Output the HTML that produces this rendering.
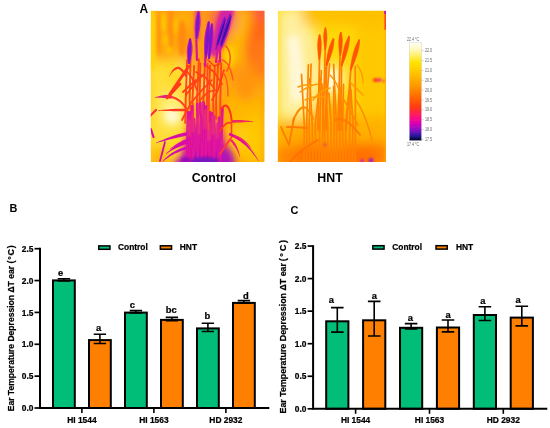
<!DOCTYPE html>
<html><head><meta charset="utf-8"><style>
html,body{margin:0;padding:0;background:#fff;width:550px;height:428px;overflow:hidden}
svg{position:absolute;left:0;top:0;display:block}
svg text{font-family:'Liberation Sans', Arial, sans-serif;font-weight:bold;fill:#000}
.t{stroke:#000;stroke-width:0.22px}
</style></head><body>
<svg width="550" height="428" viewBox="0 0 550 428">
<defs>
<filter id="sb" x="-10%" y="-10%" width="120%" height="120%"><feGaussianBlur stdDeviation="0.22"/></filter>
<linearGradient id="cbar" x1="0" y1="0" x2="0" y2="1"><stop offset="0" stop-color="#FFFFF4"/><stop offset="0.08" stop-color="#FFF8B0"/><stop offset="0.2" stop-color="#FFE400"/><stop offset="0.32" stop-color="#FFC000"/><stop offset="0.45" stop-color="#FF9400"/><stop offset="0.57" stop-color="#FF6200"/><stop offset="0.66" stop-color="#FF3A14"/><stop offset="0.75" stop-color="#FF1470"/><stop offset="0.82" stop-color="#E000B0"/><stop offset="0.89" stop-color="#8A10C8"/><stop offset="0.95" stop-color="#2818A0"/><stop offset="1" stop-color="#000020"/></linearGradient>
</defs>
<defs>
<clipPath id="c1"><rect x="150.8" y="10.8" width="113.7" height="151.2"/></clipPath>
<clipPath id="c2"><rect x="277.8" y="10.8" width="108.2" height="151.2"/></clipPath>
<filter id="b6" x="-50%" y="-50%" width="200%" height="200%"><feGaussianBlur stdDeviation="6"/></filter>
<filter id="b3" x="-50%" y="-50%" width="200%" height="200%"><feGaussianBlur stdDeviation="3"/></filter>
<filter id="b2" x="-50%" y="-50%" width="200%" height="200%"><feGaussianBlur stdDeviation="1.8"/></filter>
<filter id="b15" x="-50%" y="-50%" width="200%" height="200%"><feGaussianBlur stdDeviation="1.5"/></filter>
<filter id="b05" x="-20%" y="-20%" width="140%" height="140%"><feGaussianBlur stdDeviation="0.5"/></filter>
<filter id="b08" x="-20%" y="-20%" width="140%" height="140%"><feGaussianBlur stdDeviation="0.8"/></filter>
</defs>
<g clip-path="url(#c1)">
<rect x="150.8" y="10.8" width="113.7" height="151.2" fill="#FF9C12"/>
<g filter="url(#b6)">
<rect x="144" y="10" width="10" height="155" fill="#FFDC20"/>
<path d="M150,60 L188,58 L190,165 L150,165Z" fill="#FFDC28"/>
<ellipse cx="162" cy="34" rx="3" ry="16" fill="#FFC800"/>
<ellipse cx="174" cy="44" rx="3" ry="14" fill="#FFC000"/>
<ellipse cx="183" cy="20" rx="5" ry="9" fill="#FFC400"/>
<ellipse cx="185" cy="64" rx="5" ry="6" fill="#FFE060"/>
<ellipse cx="172" cy="110" rx="13" ry="18" fill="#FFF07A"/>
<ellipse cx="160" cy="130" rx="8" ry="14" fill="#FFE040"/>
<ellipse cx="160" cy="84" rx="6" ry="20" fill="#FFE040"/>
<ellipse cx="160" cy="155" rx="10" ry="8" fill="#FFB000"/>
<ellipse cx="258" cy="30" rx="16" ry="38" fill="#FF6616"/>
<rect x="254" y="40" width="16" height="70" fill="#FF7A14"/>
<ellipse cx="262" cy="12" rx="8" ry="6" fill="#FF4A50"/>
<path d="M240,10 L252,10 L240,64 L226,64Z" fill="#FFC000"/>
<ellipse cx="224" cy="20" rx="12" ry="14" fill="#F04080" opacity="0.8"/>
<path d="M226,80 L266,80 L266,165 L226,165Z" fill="#FFB800"/>
<ellipse cx="256" cy="140" rx="10" ry="26" fill="#FFC800"/>
<ellipse cx="246" cy="84" rx="14" ry="18" fill="#FF9410"/>
<ellipse cx="238" cy="138" rx="12" ry="14" fill="#FFCC10"/>
<ellipse cx="204" cy="84" rx="16" ry="20" fill="#FFC030" opacity="0.6"/>
</g>
<g filter="url(#b2)">
<rect x="151" y="10" width="3.5" height="60" fill="#FFD400"/>
<ellipse cx="159" cy="34" rx="2.2" ry="22" fill="#FF9208"/>
<ellipse cx="163.5" cy="22" rx="2.6" ry="10" fill="#FFC600"/>
<ellipse cx="166" cy="40" rx="3" ry="5" fill="#FFC000"/>
<ellipse cx="171" cy="30" rx="2.8" ry="22" fill="#FF9008"/>
<ellipse cx="175.5" cy="26" rx="2.2" ry="9" fill="#FFBE00"/>
<ellipse cx="182" cy="38" rx="4" ry="18" fill="#FF8A08"/>
<ellipse cx="169" cy="50" rx="3" ry="4" fill="#FFC000"/>
</g>
<g filter="url(#b3)">
<ellipse cx="172" cy="116" rx="7" ry="7" fill="#FFFAD8"/>
<ellipse cx="229" cy="56" rx="4" ry="11" fill="#FFE400"/>
<ellipse cx="188" cy="80" rx="2.2" ry="10" fill="#FFF8D0"/>
<ellipse cx="205" cy="84" rx="2.2" ry="9" fill="#FFF4B0"/>
<ellipse cx="195" cy="95" rx="2" ry="8" fill="#FFF0A0"/>
<ellipse cx="212" cy="96" rx="2" ry="8" fill="#FFE880"/>
</g>
<g filter="url(#b3)">
<path d="M178,165 L184,145 L190,126 L205,120 L220,126 L226,145 L236,165Z" fill="#DA12A4"/>
<path d="M205,165 Q212,146 226,146 Q234,150 236,165Z" fill="#B414B8"/>
<ellipse cx="204" cy="164" rx="30" ry="11" fill="#B014B8"/>
<ellipse cx="205" cy="163" rx="18" ry="8" fill="#8C14C4"/>
</g>
<g filter="url(#b05)">
<path d="M185.2,122.9 L185.7,100.0 L187.1,59.9" stroke="#FF4816" stroke-width="1.9" fill="none" stroke-linecap="round" stroke-linejoin="round" opacity="1.0"/>
<path d="M190.7,112.3 L189.6,100.0 L190.6,58.5" stroke="#FF4816" stroke-width="1.9" fill="none" stroke-linecap="round" stroke-linejoin="round" opacity="1.0"/>
<path d="M193.2,121.4 L192.5,100.0 L194.1,66.0" stroke="#FF4816" stroke-width="1.9" fill="none" stroke-linecap="round" stroke-linejoin="round" opacity="1.0"/>
<path d="M197.7,124.7 L197.0,100.0 L198.9,59.2" stroke="#FF4816" stroke-width="1.9" fill="none" stroke-linecap="round" stroke-linejoin="round" opacity="1.0"/>
<path d="M200.0,113.3 L199.6,100.0 L200.3,63.4" stroke="#FF4816" stroke-width="1.9" fill="none" stroke-linecap="round" stroke-linejoin="round" opacity="1.0"/>
<path d="M202.9,129.3 L203.4,100.0 L205.2,58.2" stroke="#FF4816" stroke-width="1.9" fill="none" stroke-linecap="round" stroke-linejoin="round" opacity="1.0"/>
<path d="M206.3,130.4 L207.0,100.0 L207.6,63.7" stroke="#FF4816" stroke-width="1.9" fill="none" stroke-linecap="round" stroke-linejoin="round" opacity="1.0"/>
<path d="M208.7,129.6 L208.9,100.0 L210.0,65.5" stroke="#FF4816" stroke-width="1.9" fill="none" stroke-linecap="round" stroke-linejoin="round" opacity="1.0"/>
<path d="M213.8,120.7 L213.2,100.0 L214.8,65.7" stroke="#FF4816" stroke-width="1.9" fill="none" stroke-linecap="round" stroke-linejoin="round" opacity="1.0"/>
<path d="M216.2,119.0 L216.1,100.0 L218.3,61.1" stroke="#FF4816" stroke-width="1.9" fill="none" stroke-linecap="round" stroke-linejoin="round" opacity="1.0"/>
<path d="M220.2,130.6 L220.3,100.0 L221.2,63.5" stroke="#FF4816" stroke-width="1.9" fill="none" stroke-linecap="round" stroke-linejoin="round" opacity="1.0"/>
<path d="M186.0,95.0 L196.0,82.0 L204.0,74.0" stroke="#FF4018" stroke-width="1.7" fill="none" stroke-linecap="round" stroke-linejoin="round" opacity="1.0"/>
<path d="M190.0,104.0 L202.0,90.0 L212.0,80.0" stroke="#FF4018" stroke-width="1.7" fill="none" stroke-linecap="round" stroke-linejoin="round" opacity="1.0"/>
<path d="M200.0,100.0 L208.0,92.0 L216.0,90.0" stroke="#FF4018" stroke-width="1.7" fill="none" stroke-linecap="round" stroke-linejoin="round" opacity="1.0"/>
<path d="M196.0,72.0 L206.0,78.0 L214.0,88.0" stroke="#FF4018" stroke-width="1.7" fill="none" stroke-linecap="round" stroke-linejoin="round" opacity="1.0"/>
<path d="M204.0,64.0 L214.0,72.0 L222.0,84.0" stroke="#FF4018" stroke-width="1.7" fill="none" stroke-linecap="round" stroke-linejoin="round" opacity="1.0"/>
<path d="M212.0,100.0 L218.0,90.0 L224.0,70.0" stroke="#FF4018" stroke-width="1.7" fill="none" stroke-linecap="round" stroke-linejoin="round" opacity="1.0"/>
<path d="M186.0,70.0 L192.0,78.0 L197.0,90.0" stroke="#FF4018" stroke-width="1.7" fill="none" stroke-linecap="round" stroke-linejoin="round" opacity="1.0"/>
<path d="M208.0,60.0 L214.0,66.0 L220.0,64.0" stroke="#FF4018" stroke-width="1.7" fill="none" stroke-linecap="round" stroke-linejoin="round" opacity="1.0"/>
<path d="M187.2,164.0 L187.8,112.0" stroke="#E0129C" stroke-width="2.6" fill="none" stroke-linecap="round" stroke-linejoin="round" opacity="1.0"/>
<path d="M189.5,164.0 L189.7,112.2" stroke="#E0129C" stroke-width="2.6" fill="none" stroke-linecap="round" stroke-linejoin="round" opacity="1.0"/>
<path d="M192.0,164.0 L192.3,106.1" stroke="#E0129C" stroke-width="2.6" fill="none" stroke-linecap="round" stroke-linejoin="round" opacity="1.0"/>
<path d="M192.9,164.0 L194.1,119.4" stroke="#E0129C" stroke-width="2.6" fill="none" stroke-linecap="round" stroke-linejoin="round" opacity="1.0"/>
<path d="M198.2,164.0 L197.4,104.0" stroke="#E0129C" stroke-width="2.6" fill="none" stroke-linecap="round" stroke-linejoin="round" opacity="1.0"/>
<path d="M201.4,164.0 L200.4,102.9" stroke="#E0129C" stroke-width="2.6" fill="none" stroke-linecap="round" stroke-linejoin="round" opacity="1.0"/>
<path d="M202.5,164.0 L201.3,116.4" stroke="#E0129C" stroke-width="2.6" fill="none" stroke-linecap="round" stroke-linejoin="round" opacity="1.0"/>
<path d="M204.6,164.0 L203.6,102.3" stroke="#E0129C" stroke-width="2.6" fill="none" stroke-linecap="round" stroke-linejoin="round" opacity="1.0"/>
<path d="M206.0,164.0 L206.1,106.2" stroke="#E0129C" stroke-width="2.6" fill="none" stroke-linecap="round" stroke-linejoin="round" opacity="1.0"/>
<path d="M209.3,164.0 L210.2,112.2" stroke="#E0129C" stroke-width="2.6" fill="none" stroke-linecap="round" stroke-linejoin="round" opacity="1.0"/>
<path d="M212.6,164.0 L212.0,113.4" stroke="#E0129C" stroke-width="2.6" fill="none" stroke-linecap="round" stroke-linejoin="round" opacity="1.0"/>
<path d="M214.3,164.0 L214.1,116.6" stroke="#E0129C" stroke-width="2.6" fill="none" stroke-linecap="round" stroke-linejoin="round" opacity="1.0"/>
<path d="M219.0,164.0 L217.7,123.9" stroke="#E0129C" stroke-width="2.6" fill="none" stroke-linecap="round" stroke-linejoin="round" opacity="1.0"/>
<path d="M218.8,164.0 L219.0,117.6" stroke="#E0129C" stroke-width="2.6" fill="none" stroke-linecap="round" stroke-linejoin="round" opacity="1.0"/>
<path d="M220.3,164.0 L222.5,108.4" stroke="#E0129C" stroke-width="2.6" fill="none" stroke-linecap="round" stroke-linejoin="round" opacity="1.0"/>
<path d="M169.1,77.1 L169.8,75.9 L170.5,74.8 L171.2,73.9 L171.9,73.0 L172.6,72.2 L173.3,71.5 L173.9,70.9 L174.6,70.4 L175.2,70.0 L175.8,69.7 L176.4,69.4 L176.9,69.2 L177.4,69.1 L177.8,69.0 L178.3,69.0 L178.8,69.1 L179.2,66.9 L178.4,66.8 L177.7,66.8 L176.9,66.9 L176.1,67.1 L175.4,67.5 L174.7,67.9 L174.0,68.5 L173.4,69.1 L172.8,69.8 L172.2,70.6 L171.6,71.5 L171.1,72.4 L170.5,73.4 L170.0,74.5 L169.4,75.7 L168.9,76.9Z" fill="#FF3A20"/>
<path d="M179,68 Q183,70 186,76" stroke="#FF3A20" stroke-width="2.0" fill="none" stroke-linecap="round" stroke-linejoin="round" opacity="1.0"/>
<path d="M170.0,94.0 L189.0,66.0" stroke="#FF3A1C" stroke-width="3.0" fill="none" stroke-linecap="round" stroke-linejoin="round" opacity="1.0"/>
<path d="M155.1,97.7 L156.0,97.7 L156.9,97.7 L157.8,97.6 L158.8,97.7 L159.7,97.7 L160.7,97.7 L161.8,97.8 L162.8,97.9 L163.8,98.0 L164.9,98.1 L166.0,98.2 L167.1,98.3 L168.3,98.3 L169.4,98.4 L170.6,98.5 L171.8,98.6 L172.2,95.4 L170.9,95.3 L169.7,95.2 L168.4,95.1 L167.3,95.1 L166.1,95.0 L164.9,95.1 L163.8,95.2 L162.7,95.4 L161.6,95.5 L160.6,95.7 L159.6,95.9 L158.6,96.2 L157.6,96.4 L156.7,96.7 L155.8,97.0 L154.9,97.3Z" fill="#E8207A"/>
<path d="M172,97 Q180,99 186,108" stroke="#FF4020" stroke-width="2.0" fill="none" stroke-linecap="round" stroke-linejoin="round" opacity="1.0"/>
<path d="M167.0,98.0 L180.0,84.0" stroke="#FF3A18" stroke-width="2.6" fill="none" stroke-linecap="round" stroke-linejoin="round" opacity="1.0"/>
<path d="M158.0,110.7 L159.5,110.7 L161.1,110.8 L162.7,110.8 L164.3,110.9 L165.9,110.9 L167.6,111.0 L169.3,111.1 L171.0,111.1 L172.8,111.2 L174.6,111.3 L176.4,111.3 L178.3,111.3 L180.1,111.3 L182.1,111.3 L184.0,111.3 L186.0,111.3 L186.0,108.7 L184.0,108.7 L182.1,108.7 L180.1,108.7 L178.2,108.7 L176.4,108.7 L174.5,108.8 L172.7,109.0 L171.0,109.1 L169.2,109.2 L167.5,109.4 L165.9,109.5 L164.2,109.7 L162.6,109.8 L161.0,110.0 L159.5,110.1 L158.0,110.3Z" fill="#FF3A1C"/>
<path d="M150.0,116.0 L156.0,110.0" stroke="#FF2A40" stroke-width="2.2" fill="none" stroke-linecap="round" stroke-linejoin="round" opacity="1.0"/>
<path d="M156.1,143.2 L158.1,142.6 L160.2,142.0 L162.3,141.4 L164.4,140.9 L166.5,140.3 L168.6,139.8 L170.7,139.3 L172.9,138.8 L175.0,138.3 L177.2,137.8 L179.4,137.3 L181.5,136.8 L183.7,136.2 L185.9,135.7 L188.1,135.2 L190.4,134.7 L189.6,131.3 L187.4,131.9 L185.1,132.4 L182.9,132.9 L180.7,133.5 L178.5,134.1 L176.4,134.7 L174.2,135.5 L172.1,136.2 L170.0,137.0 L168.0,137.8 L165.9,138.6 L163.9,139.4 L161.9,140.2 L159.9,141.0 L157.9,141.9 L155.9,142.8Z" fill="#D810A8"/>
<path d="M160.0,161.0 L165.0,142.0" stroke="#D010A8" stroke-width="1.8" fill="none" stroke-linecap="round" stroke-linejoin="round" opacity="1.0"/>
<path d="M166.1,154.2 L167.4,153.3 L168.6,152.4 L169.9,151.6 L171.2,150.8 L172.5,150.1 L173.8,149.4 L175.2,148.7 L176.6,148.0 L178.0,147.4 L179.4,146.8 L180.9,146.3 L182.3,145.6 L183.8,145.0 L185.3,144.5 L186.9,143.9 L188.4,143.4 L187.6,140.6 L185.9,141.1 L184.3,141.7 L182.7,142.2 L181.2,142.9 L179.7,143.5 L178.2,144.3 L176.8,145.1 L175.4,146.0 L174.1,146.8 L172.8,147.8 L171.6,148.7 L170.3,149.7 L169.2,150.7 L168.0,151.7 L166.9,152.8 L165.9,153.8Z" fill="#D810A8"/>
<path d="M170.1,149.2 L171.3,148.5 L172.5,147.9 L173.7,147.3 L174.9,146.7 L176.2,146.1 L177.4,145.5 L178.7,144.9 L180.0,144.4 L181.2,143.9 L182.5,143.4 L183.8,142.9 L185.1,142.3 L186.4,141.8 L187.8,141.2 L189.1,140.7 L190.4,140.2 L189.6,137.8 L188.2,138.3 L186.8,138.8 L185.5,139.4 L184.1,139.9 L182.8,140.5 L181.5,141.2 L180.3,141.9 L179.0,142.6 L177.8,143.3 L176.6,144.1 L175.5,144.8 L174.3,145.6 L173.2,146.4 L172.1,147.2 L171.0,148.0 L169.9,148.8Z" fill="#D810A8"/>
<path d="M162.1,162.1 L163.5,161.0 L164.8,159.9 L166.2,158.9 L167.6,157.9 L169.1,156.9 L170.5,156.0 L172.0,155.2 L173.5,154.4 L175.1,153.6 L176.6,152.9 L178.2,152.3 L179.8,151.6 L181.4,150.9 L183.0,150.3 L184.7,149.8 L186.4,149.2 L185.6,146.8 L183.9,147.3 L182.1,147.9 L180.4,148.5 L178.7,149.2 L177.1,149.9 L175.5,150.7 L174.0,151.7 L172.5,152.6 L171.0,153.6 L169.6,154.7 L168.2,155.8 L166.9,156.9 L165.6,158.1 L164.3,159.3 L163.1,160.6 L161.9,161.9Z" fill="#D010B0"/>
<path d="M150.8,129.0 L153.5,137.0" stroke="#E010A0" stroke-width="2.2" fill="none" stroke-linecap="round" stroke-linejoin="round" opacity="1.0"/>
<path d="M183,92 L196,80" stroke="#FF4018" stroke-width="2.0" fill="none" stroke-linecap="round" stroke-linejoin="round" opacity="1.0"/>
<path d="M182,120 Q186,112 190,105" stroke="#FF4018" stroke-width="1.8" fill="none" stroke-linecap="round" stroke-linejoin="round" opacity="1.0"/>
<path d="M220,131 Q226,121 231,123" stroke="#FF3A20" stroke-width="1.8" fill="none" stroke-linecap="round" stroke-linejoin="round" opacity="1.0"/>
<path d="M253.0,121.3 L251.8,121.1 L250.5,121.0 L249.2,120.8 L248.0,120.7 L246.7,120.6 L245.4,120.4 L244.1,120.3 L242.8,120.2 L241.4,120.1 L240.1,120.0 L238.8,120.0 L237.4,120.0 L236.1,120.0 L234.7,120.1 L233.3,120.1 L231.9,120.2 L232.1,122.8 L233.4,122.7 L234.8,122.7 L236.1,122.6 L237.5,122.6 L238.8,122.6 L240.1,122.5 L241.4,122.4 L242.8,122.3 L244.1,122.2 L245.3,122.1 L246.6,122.0 L247.9,121.9 L249.2,121.9 L250.5,121.8 L251.7,121.7 L253.0,121.7Z" fill="#F02A60"/>
<path d="M231.5,119.0 L231.5,137.0" stroke="#FF4020" stroke-width="1.6" fill="none" stroke-linecap="round" stroke-linejoin="round" opacity="1.0"/>
<path d="M258.7,160.9 L257.2,158.3 L255.6,155.8 L254.1,153.4 L252.4,151.1 L250.8,148.9 L249.1,146.8 L247.4,144.8 L245.6,143.0 L243.7,141.3 L241.9,139.6 L239.9,138.1 L237.9,136.8 L235.8,135.6 L233.7,134.6 L231.6,133.6 L229.4,132.8 L228.6,135.2 L230.6,136.0 L232.6,136.9 L234.6,137.9 L236.5,139.0 L238.5,140.3 L240.4,141.6 L242.3,143.0 L244.2,144.5 L246.1,146.1 L247.9,147.9 L249.7,149.8 L251.5,151.8 L253.2,154.0 L255.0,156.2 L256.7,158.6 L258.3,161.1Z" fill="#E0109A"/>
<path d="M251.1,147.9 L250.3,146.7 L249.5,145.6 L248.6,144.5 L247.7,143.5 L246.7,142.5 L245.8,141.6 L244.8,140.7 L243.7,139.8 L242.7,139.0 L241.6,138.2 L240.5,137.5 L239.3,136.9 L238.1,136.3 L236.9,135.8 L235.6,135.4 L234.3,134.9 L233.7,137.1 L234.9,137.4 L236.1,137.9 L237.2,138.3 L238.3,138.9 L239.4,139.4 L240.5,140.0 L241.7,140.6 L242.8,141.2 L243.8,141.9 L244.9,142.6 L245.9,143.4 L247.0,144.2 L248.0,145.1 L248.9,146.1 L249.9,147.1 L250.9,148.1Z" fill="#F01C80"/>
<path d="M240.2,157.0 L239.9,155.6 L239.5,154.2 L239.2,152.9 L238.8,151.6 L238.4,150.4 L238.0,149.2 L237.5,148.0 L237.0,146.8 L236.5,145.7 L236.0,144.7 L235.4,143.6 L234.7,142.7 L234.0,141.7 L233.3,140.9 L232.5,140.0 L231.8,139.2 L230.2,140.8 L230.9,141.5 L231.6,142.3 L232.3,143.1 L232.9,144.0 L233.5,144.9 L234.2,145.8 L234.8,146.7 L235.5,147.7 L236.1,148.7 L236.7,149.7 L237.3,150.8 L237.8,152.0 L238.4,153.2 L238.9,154.4 L239.4,155.7 L239.8,157.0Z" fill="#F01C80"/>
<path d="M220.0,154.0 L231.0,138.0" stroke="#FF3A30" stroke-width="1.8" fill="none" stroke-linecap="round" stroke-linejoin="round" opacity="1.0"/>
<path d="M221,109 Q226,102 229,109 Q231,113 231.5,119" stroke="#FF3020" stroke-width="1.8" fill="none" stroke-linecap="round" stroke-linejoin="round" opacity="1.0"/>
<path d="M226,46 Q234,56 227,71" stroke="#FF5A18" stroke-width="1.6" fill="none" stroke-linecap="round" stroke-linejoin="round" opacity="1.0"/>
<path d="M222,72 Q228,76 228,96" stroke="#FF5A18" stroke-width="1.4" fill="none" stroke-linecap="round" stroke-linejoin="round" opacity="1.0"/>
<path d="M222,60 Q230,62 233,80" stroke="#FF5A18" stroke-width="1.4" fill="none" stroke-linecap="round" stroke-linejoin="round" opacity="1.0"/>
</g>
<g filter="url(#b08)">
<path d="M193.0,114.0 L193.0,132.0" stroke="#FF7030" stroke-width="1.2" fill="none" stroke-linecap="round" stroke-linejoin="round" opacity="0.75"/>
<path d="M205.0,110.0 L205.0,128.0" stroke="#FF7030" stroke-width="1.2" fill="none" stroke-linecap="round" stroke-linejoin="round" opacity="0.75"/>
<path d="M213.0,116.0 L213.0,134.0" stroke="#FF7030" stroke-width="1.2" fill="none" stroke-linecap="round" stroke-linejoin="round" opacity="0.75"/>
<path d="M189.0,120.0 L189.0,136.0" stroke="#FF7030" stroke-width="1.2" fill="none" stroke-linecap="round" stroke-linejoin="round" opacity="0.75"/>
<path d="M199.0,118.0 L199.0,134.0" stroke="#FF7030" stroke-width="1.2" fill="none" stroke-linecap="round" stroke-linejoin="round" opacity="0.75"/>
<path d="M209.0,122.0 L209.0,140.0" stroke="#FF7030" stroke-width="1.2" fill="none" stroke-linecap="round" stroke-linejoin="round" opacity="0.75"/>
<path d="M217.0,120.0 L217.0,138.0" stroke="#FF7030" stroke-width="1.2" fill="none" stroke-linecap="round" stroke-linejoin="round" opacity="0.75"/>
<ellipse cx="205" cy="161" rx="14" ry="4" fill="#7A12C0"/>
<ellipse cx="186" cy="160" rx="5" ry="3" fill="#9810B8"/>
</g>
<g filter="url(#b15)">
<path d="M221,8 L235,8 L224,46 L214,58 L208,50Z" fill="#D020A8" opacity="0.9"/>
<path d="M195,10 L200,10 L199,40 L195,40Z" fill="#D020A8" opacity="0.7"/>
</g>
<g filter="url(#b05)">
<path d="M197.6,11.4 L197.0,13.4 L196.4,15.3 L195.9,17.2 L195.4,19.2 L195.1,21.1 L194.8,23.1 L194.7,25.0 L194.6,27.0 L194.6,29.0 L194.7,31.0 L194.9,32.9 L195.0,34.9 L195.3,36.9 L195.5,38.9 L197.5,39.1 L198.0,37.1 L198.6,35.2 L199.0,33.3 L199.5,31.3 L199.9,29.4 L200.2,27.4 L200.4,25.5 L200.6,23.5 L200.6,21.5 L200.6,19.6 L200.4,17.6 L200.2,15.6 L199.9,13.6 L199.6,11.6Z" fill="#D21CB0"/>
<path d="M189.2,38.5 L188.7,40.3 L188.2,42.1 L187.7,43.9 L187.4,45.7 L187.1,47.5 L186.9,49.3 L186.8,51.1 L186.8,52.9 L186.9,54.8 L187.0,56.6 L187.2,58.4 L187.5,60.3 L187.7,62.1 L188.0,64.0 L190.0,64.0 L190.4,62.2 L190.9,60.4 L191.3,58.6 L191.6,56.8 L192.0,55.0 L192.2,53.2 L192.4,51.4 L192.5,49.6 L192.5,47.7 L192.4,45.9 L192.2,44.1 L191.9,42.2 L191.5,40.4 L191.2,38.5Z" fill="#D21CB0"/>
<path d="M207.8,21.4 L207.0,24.0 L206.4,26.7 L205.7,29.3 L205.2,32.0 L204.7,34.6 L204.4,37.3 L204.2,40.0 L204.0,42.7 L204.0,45.4 L204.0,48.1 L204.0,50.8 L204.2,53.5 L204.3,56.2 L204.5,58.9 L206.5,59.1 L207.2,56.4 L207.8,53.8 L208.4,51.2 L208.9,48.5 L209.4,45.8 L209.8,43.2 L210.1,40.5 L210.4,37.8 L210.5,35.1 L210.5,32.4 L210.5,29.7 L210.3,27.0 L210.1,24.3 L209.8,21.6Z" fill="#D21CB0"/>
<path d="M211.0,23.4 L210.4,25.9 L209.7,28.4 L209.1,30.9 L208.6,33.4 L208.2,36.0 L207.9,38.5 L207.7,41.0 L207.6,43.6 L207.5,46.1 L207.6,48.7 L207.6,51.2 L207.7,53.8 L207.9,56.4 L208.0,58.9 L210.0,59.1 L210.6,56.6 L211.1,54.1 L211.7,51.6 L212.2,49.1 L212.6,46.5 L213.0,44.0 L213.3,41.5 L213.5,38.9 L213.6,36.4 L213.6,33.9 L213.6,31.3 L213.4,28.7 L213.2,26.2 L213.0,23.6Z" fill="#D21CB0"/>
<path d="M229.5,13.7 L228.2,16.0 L226.9,18.3 L225.8,20.7 L224.7,23.1 L223.7,25.5 L222.8,28.0 L222.1,30.5 L221.4,33.1 L220.8,35.6 L220.3,38.2 L219.9,40.8 L219.5,43.4 L219.2,46.0 L218.9,48.7 L221.1,49.3 L222.3,47.0 L223.5,44.6 L224.6,42.2 L225.7,39.8 L226.7,37.4 L227.7,34.9 L228.5,32.5 L229.3,30.0 L230.0,27.5 L230.5,24.9 L230.9,22.3 L231.2,19.7 L231.5,17.0 L231.7,14.3Z" fill="#D21CB0"/>
<path d="M224.0,16.7 L222.9,19.0 L221.8,21.2 L220.8,23.4 L219.8,25.7 L219.0,28.0 L218.3,30.4 L217.6,32.7 L217.1,35.1 L216.6,37.5 L216.2,39.9 L215.8,42.4 L215.5,44.8 L215.2,47.3 L215.0,49.7 L217.0,50.3 L218.0,48.0 L219.0,45.8 L220.0,43.5 L221.0,41.2 L221.8,38.9 L222.6,36.6 L223.4,34.3 L224.0,31.9 L224.6,29.5 L225.0,27.1 L225.4,24.7 L225.6,22.2 L225.8,19.8 L226.0,17.3Z" fill="#D21CB0"/>
<path d="M198.0,11.5 L197.6,13.4 L197.2,15.3 L196.8,17.3 L196.5,19.2 L196.2,21.2 L196.0,23.2 L195.9,25.1 L195.8,27.1 L195.7,29.1 L195.7,31.0 L195.7,33.0 L195.8,35.0 L195.8,37.0 L195.9,39.0 L197.1,39.0 L197.5,37.1 L197.8,35.2 L198.2,33.2 L198.5,31.2 L198.8,29.3 L199.0,27.3 L199.2,25.4 L199.4,23.4 L199.5,21.4 L199.5,19.5 L199.5,17.5 L199.4,15.5 L199.3,13.5 L199.2,11.5Z" fill="#7A18C8"/>
<path d="M189.6,38.5 L189.3,40.3 L189.0,42.1 L188.7,43.9 L188.4,45.7 L188.2,47.5 L188.1,49.4 L188.0,51.2 L188.0,53.0 L188.0,54.8 L188.0,56.7 L188.1,58.5 L188.2,60.3 L188.3,62.1 L188.4,64.0 L189.6,64.0 L189.9,62.2 L190.1,60.4 L190.4,58.6 L190.7,56.8 L190.9,55.0 L191.1,53.1 L191.2,51.3 L191.3,49.5 L191.3,47.7 L191.3,45.9 L191.2,44.0 L191.1,42.2 L190.9,40.4 L190.8,38.5Z" fill="#7A18C8"/>
<path d="M208.2,21.4 L207.6,24.1 L207.1,26.8 L206.7,29.4 L206.3,32.1 L205.9,34.7 L205.6,37.4 L205.4,40.1 L205.2,42.8 L205.1,45.5 L205.0,48.2 L204.9,50.9 L204.9,53.5 L204.9,56.2 L204.9,58.9 L206.1,59.1 L206.6,56.4 L207.1,53.7 L207.5,51.1 L207.9,48.4 L208.3,45.7 L208.6,43.1 L208.9,40.4 L209.2,37.7 L209.4,35.0 L209.5,32.4 L209.5,29.7 L209.5,27.0 L209.5,24.3 L209.4,21.6Z" fill="#7A18C8"/>
<path d="M211.4,23.5 L211.0,26.0 L210.5,28.5 L210.1,31.0 L209.7,33.5 L209.4,36.0 L209.1,38.6 L208.9,41.1 L208.8,43.7 L208.6,46.2 L208.5,48.7 L208.5,51.3 L208.5,53.8 L208.4,56.4 L208.4,59.0 L209.6,59.0 L210.0,56.5 L210.4,54.0 L210.8,51.5 L211.2,49.0 L211.5,46.4 L211.8,43.9 L212.1,41.4 L212.3,38.8 L212.5,36.3 L212.6,33.8 L212.6,31.2 L212.6,28.7 L212.6,26.1 L212.6,23.5Z" fill="#7A18C8"/>
<path d="M229.9,13.8 L228.8,16.2 L227.7,18.6 L226.7,21.0 L225.7,23.4 L224.8,25.9 L224.0,28.4 L223.2,30.9 L222.5,33.4 L221.9,35.9 L221.3,38.5 L220.7,41.0 L220.2,43.6 L219.7,46.2 L219.3,48.8 L220.7,49.2 L221.8,46.8 L222.8,44.4 L223.8,42.0 L224.8,39.5 L225.7,37.1 L226.6,34.6 L227.4,32.1 L228.2,29.6 L228.8,27.1 L229.5,24.6 L230.0,22.0 L230.5,19.4 L230.9,16.8 L231.3,14.2Z" fill="#7A18C8"/>
<path d="M224.4,16.8 L223.5,19.1 L222.6,21.4 L221.7,23.7 L220.9,26.0 L220.1,28.3 L219.4,30.7 L218.8,33.0 L218.2,35.4 L217.6,37.8 L217.1,40.2 L216.7,42.6 L216.2,45.0 L215.8,47.4 L215.4,49.8 L216.6,50.2 L217.5,47.9 L218.3,45.6 L219.2,43.3 L220.0,41.0 L220.8,38.6 L221.5,36.3 L222.2,34.0 L222.9,31.6 L223.5,29.2 L224.0,26.9 L224.4,24.4 L224.9,22.0 L225.2,19.6 L225.6,17.2Z" fill="#7A18C8"/>
<path d="M230.9,15.9 L230.0,18.0 L229.1,20.1 L228.2,22.2 L227.3,24.3 L226.5,26.4 L225.7,28.5 L225.0,30.7 L224.2,32.8 L223.5,35.0 L222.9,37.2 L222.2,39.3 L221.5,41.5 L220.9,43.7 L220.3,45.9 L220.9,46.1 L221.8,44.0 L222.7,41.9 L223.5,39.8 L224.4,37.7 L225.2,35.6 L226.0,33.5 L226.8,31.3 L227.6,29.2 L228.3,27.0 L229.0,24.9 L229.7,22.7 L230.3,20.5 L230.9,18.3 L231.5,16.1Z" fill="#3A1098"/>
<path d="M225.3,18.9 L224.6,20.9 L223.8,22.8 L223.1,24.8 L222.3,26.8 L221.6,28.8 L221.0,30.8 L220.3,32.8 L219.7,34.8 L219.1,36.8 L218.5,38.8 L218.0,40.8 L217.4,42.8 L216.9,44.9 L216.3,46.9 L216.9,47.1 L217.6,45.1 L218.4,43.2 L219.1,41.2 L219.8,39.2 L220.5,37.2 L221.2,35.2 L221.9,33.2 L222.5,31.2 L223.1,29.2 L223.7,27.2 L224.3,25.2 L224.8,23.2 L225.4,21.1 L225.9,19.1Z" fill="#3A1098"/>
<path d="M196.3,40.0 L197.0,60.0" stroke="#D8189C" stroke-width="2.2" fill="none" stroke-linecap="round" stroke-linejoin="round" opacity="1.0"/>
<path d="M205.5,58.0 L205.0,66.0" stroke="#D8189C" stroke-width="2.2" fill="none" stroke-linecap="round" stroke-linejoin="round" opacity="1.0"/>
<path d="M218.0,46.0 L216.0,62.0" stroke="#D8189C" stroke-width="2.2" fill="none" stroke-linecap="round" stroke-linejoin="round" opacity="1.0"/>
<path d="M220.0,46.0 L220.0,62.0" stroke="#D8189C" stroke-width="2.2" fill="none" stroke-linecap="round" stroke-linejoin="round" opacity="1.0"/>
</g>
</g>
<g clip-path="url(#c2)">
<rect x="277.8" y="10.8" width="108.2" height="151.2" fill="#FFD808"/>
<g filter="url(#b6)">
<path d="M278,8 L308,8 L318,108 L300,118 L278,118Z" fill="#FFF0A0"/>
<path d="M302,2 L392,2 L392,28 L302,24Z" fill="#FFC000"/>
<ellipse cx="338" cy="76" rx="7" ry="9" fill="#FFF6C8"/>
<rect x="356" y="26" width="34" height="100" fill="#FFC800"/>
<path d="M274,122 L392,116 L392,170 L274,170Z" fill="#FFB000"/>
<path d="M274,146 L392,142 L392,170 L274,170Z" fill="#FF8400"/>
<rect x="298" y="144" width="80" height="24" fill="#FF7000"/>
<ellipse cx="332" cy="80" rx="12" ry="16" fill="#FFF4C0"/>
<ellipse cx="312" cy="60" rx="10" ry="30" fill="#FFEC90"/>
<ellipse cx="332" cy="126" rx="22" ry="26" fill="#FFA000" opacity="0.7"/>
<ellipse cx="300" cy="135" rx="10" ry="10" fill="#FFA800" opacity="0.8"/>
</g>
<g filter="url(#b3)">
<path d="M287,36 L299,36 L308,98 L292,102Z" fill="#FFF8D8"/>
<ellipse cx="296" cy="84" rx="5" ry="6" fill="#FFF8D8"/>
<ellipse cx="331" cy="80" rx="6" ry="9" fill="#FFFBE0"/>
</g>
<g filter="url(#b05)">
<path d="M304.0,164.0 L304.3,125.0 L301.5,74.3" stroke="#FF8400" stroke-width="1.7" fill="none" stroke-linecap="round" stroke-linejoin="round" opacity="1.0"/>
<path d="M307.0,164.0 L306.7,125.0 L308.4,64.8" stroke="#FF8400" stroke-width="1.7" fill="none" stroke-linecap="round" stroke-linejoin="round" opacity="1.0"/>
<path d="M310.0,164.0 L309.1,125.0 L311.1,64.2" stroke="#FF8400" stroke-width="1.7" fill="none" stroke-linecap="round" stroke-linejoin="round" opacity="1.0"/>
<path d="M313.0,164.0 L312.2,125.0 L309.7,78.5" stroke="#FF8400" stroke-width="1.7" fill="none" stroke-linecap="round" stroke-linejoin="round" opacity="1.0"/>
<path d="M316.0,164.0 L315.2,125.0 L320.3,78.1" stroke="#FF8400" stroke-width="1.7" fill="none" stroke-linecap="round" stroke-linejoin="round" opacity="1.0"/>
<path d="M319.0,164.0 L319.9,125.0 L321.3,70.5" stroke="#FF8400" stroke-width="1.7" fill="none" stroke-linecap="round" stroke-linejoin="round" opacity="1.0"/>
<path d="M322.0,164.0 L323.0,125.0 L322.0,83.9" stroke="#FF8400" stroke-width="1.7" fill="none" stroke-linecap="round" stroke-linejoin="round" opacity="1.0"/>
<path d="M325.0,164.0 L324.6,125.0 L329.6,63.8" stroke="#FF8400" stroke-width="1.7" fill="none" stroke-linecap="round" stroke-linejoin="round" opacity="1.0"/>
<path d="M328.0,164.0 L327.6,125.0 L325.2,67.5" stroke="#FF8400" stroke-width="1.7" fill="none" stroke-linecap="round" stroke-linejoin="round" opacity="1.0"/>
<path d="M331.0,164.0 L331.2,125.0 L328.8,93.0" stroke="#FF8400" stroke-width="1.7" fill="none" stroke-linecap="round" stroke-linejoin="round" opacity="1.0"/>
<path d="M334.0,164.0 L334.1,125.0 L333.7,86.3" stroke="#FF8400" stroke-width="1.7" fill="none" stroke-linecap="round" stroke-linejoin="round" opacity="1.0"/>
<path d="M337.0,164.0 L336.4,125.0 L333.6,64.4" stroke="#FF8400" stroke-width="1.7" fill="none" stroke-linecap="round" stroke-linejoin="round" opacity="1.0"/>
<path d="M340.0,164.0 L339.6,125.0 L340.3,87.9" stroke="#FF8400" stroke-width="1.7" fill="none" stroke-linecap="round" stroke-linejoin="round" opacity="1.0"/>
<path d="M343.0,164.0 L342.6,125.0 L343.5,84.3" stroke="#FF8400" stroke-width="1.7" fill="none" stroke-linecap="round" stroke-linejoin="round" opacity="1.0"/>
<path d="M346.0,164.0 L345.5,125.0 L349.0,92.2" stroke="#FF8400" stroke-width="1.7" fill="none" stroke-linecap="round" stroke-linejoin="round" opacity="1.0"/>
<path d="M349.0,164.0 L349.8,125.0 L350.3,83.8" stroke="#FF8400" stroke-width="1.7" fill="none" stroke-linecap="round" stroke-linejoin="round" opacity="1.0"/>
<path d="M352.0,164.0 L353.0,125.0 L350.9,89.7" stroke="#FF8400" stroke-width="1.7" fill="none" stroke-linecap="round" stroke-linejoin="round" opacity="1.0"/>
<path d="M355.0,164.0 L355.5,125.0 L355.2,66.5" stroke="#FF8400" stroke-width="1.7" fill="none" stroke-linecap="round" stroke-linejoin="round" opacity="1.0"/>
<path d="M318.0,130.0 L319.5,60.0" stroke="#FF8000" stroke-width="1.8" fill="none" stroke-linecap="round" stroke-linejoin="round" opacity="1.0"/>
<path d="M323.0,130.0 L325.3,46.0" stroke="#FF8000" stroke-width="1.8" fill="none" stroke-linecap="round" stroke-linejoin="round" opacity="1.0"/>
<path d="M326.0,130.0 L326.7,63.0" stroke="#FF8000" stroke-width="1.8" fill="none" stroke-linecap="round" stroke-linejoin="round" opacity="1.0"/>
<path d="M338.0,130.0 L340.2,50.0" stroke="#FF8000" stroke-width="1.8" fill="none" stroke-linecap="round" stroke-linejoin="round" opacity="1.0"/>
<path d="M341.0,130.0 L341.5,63.0" stroke="#FF8000" stroke-width="1.8" fill="none" stroke-linecap="round" stroke-linejoin="round" opacity="1.0"/>
<path d="M346.0,130.0 L351.0,67.0" stroke="#FF8000" stroke-width="1.8" fill="none" stroke-linecap="round" stroke-linejoin="round" opacity="1.0"/>
</g><g filter="url(#b05)">
<path d="M318.8,34.5 L318.4,36.3 L318.0,38.1 L317.6,39.9 L317.4,41.8 L317.2,43.6 L317.2,45.4 L317.3,47.2 L317.3,49.1 L317.5,50.9 L317.6,52.7 L317.8,54.5 L318.1,56.3 L318.3,58.2 L318.6,60.0 L320.2,60.0 L320.5,58.2 L320.8,56.4 L321.0,54.5 L321.3,52.7 L321.5,50.9 L321.6,49.1 L321.7,47.3 L321.8,45.4 L321.8,43.6 L321.7,41.8 L321.5,40.0 L321.2,38.2 L320.8,36.3 L320.4,34.5Z" fill="#FF8A00"/>
<path d="M324.7,27.5 L324.3,29.1 L323.9,30.7 L323.6,32.3 L323.4,33.9 L323.2,35.5 L323.2,37.1 L323.2,38.7 L323.3,40.3 L323.4,41.9 L323.6,43.6 L323.8,45.2 L324.0,46.8 L324.2,48.4 L324.5,50.0 L325.9,50.0 L326.2,48.4 L326.5,46.8 L326.7,45.2 L326.9,43.6 L327.1,42.0 L327.3,40.4 L327.4,38.8 L327.4,37.2 L327.4,35.6 L327.3,33.9 L327.1,32.3 L326.8,30.7 L326.5,29.1 L326.1,27.5Z" fill="#FF8A00"/>
<path d="M332.8,38.3 L331.8,40.1 L330.9,42.0 L330.0,43.9 L329.3,45.8 L328.6,47.7 L328.1,49.6 L327.6,51.6 L327.2,53.6 L326.8,55.6 L326.5,57.6 L326.2,59.7 L325.9,61.7 L325.7,63.7 L325.5,65.8 L327.1,66.2 L328.0,64.3 L328.8,62.4 L329.5,60.6 L330.3,58.7 L331.0,56.7 L331.7,54.8 L332.3,52.9 L332.9,50.9 L333.4,49.0 L333.8,47.0 L334.1,44.9 L334.2,42.9 L334.4,40.8 L334.4,38.7Z" fill="#FF8A00"/>
<path d="M340.0,32.0 L339.5,33.7 L339.1,35.4 L338.8,37.1 L338.5,38.8 L338.3,40.5 L338.2,42.2 L338.3,43.9 L338.3,45.7 L338.4,47.4 L338.6,49.1 L338.7,50.8 L338.9,52.5 L339.2,54.3 L339.4,56.0 L341.0,56.0 L341.3,54.3 L341.6,52.6 L341.9,50.9 L342.2,49.2 L342.4,47.5 L342.6,45.8 L342.7,44.1 L342.8,42.3 L342.9,40.6 L342.8,38.9 L342.6,37.2 L342.3,35.5 L342.0,33.7 L341.6,32.0Z" fill="#FF8A00"/>
<path d="M348.4,35.8 L347.4,37.8 L346.4,39.9 L345.5,41.9 L344.7,44.0 L344.1,46.1 L343.5,48.2 L343.0,50.4 L342.5,52.6 L342.1,54.7 L341.8,56.9 L341.5,59.1 L341.2,61.3 L340.9,63.6 L340.7,65.8 L342.3,66.2 L343.2,64.1 L344.0,62.1 L344.8,60.0 L345.6,57.9 L346.4,55.8 L347.1,53.7 L347.7,51.6 L348.3,49.5 L348.8,47.3 L349.3,45.2 L349.6,42.9 L349.8,40.7 L349.9,38.5 L350.0,36.2Z" fill="#FF8A00"/>
<path d="M358.6,39.3 L357.5,41.3 L356.5,43.4 L355.5,45.5 L354.6,47.6 L353.9,49.7 L353.2,51.9 L352.7,54.1 L352.1,56.3 L351.6,58.5 L351.2,60.7 L350.8,63.0 L350.4,65.2 L350.1,67.5 L349.8,69.8 L351.4,70.2 L352.4,68.1 L353.3,66.0 L354.2,63.9 L355.0,61.8 L355.8,59.7 L356.6,57.6 L357.3,55.4 L358.0,53.3 L358.6,51.1 L359.1,48.9 L359.5,46.6 L359.8,44.3 L360.0,42.0 L360.2,39.7Z" fill="#FF8A00"/>
<path d="M319.0,34.5 L318.7,36.3 L318.4,38.1 L318.1,40.0 L318.0,41.8 L317.8,43.6 L317.8,45.4 L317.8,47.2 L317.9,49.1 L318.0,50.9 L318.1,52.7 L318.3,54.5 L318.4,56.3 L318.6,58.2 L318.8,60.0 L320.0,60.0 L320.2,58.2 L320.4,56.4 L320.6,54.5 L320.8,52.7 L321.0,50.9 L321.1,49.1 L321.2,47.3 L321.2,45.4 L321.2,43.6 L321.1,41.8 L321.0,40.0 L320.8,38.2 L320.5,36.3 L320.2,34.5Z" fill="#FF5400"/>
<path d="M324.9,27.5 L324.6,29.1 L324.3,30.7 L324.1,32.3 L323.9,33.9 L323.8,35.5 L323.8,37.1 L323.8,38.7 L323.9,40.3 L324.0,42.0 L324.1,43.6 L324.2,45.2 L324.3,46.8 L324.5,48.4 L324.7,50.0 L325.7,50.0 L325.9,48.4 L326.1,46.8 L326.3,45.2 L326.4,43.6 L326.6,42.0 L326.7,40.4 L326.8,38.8 L326.8,37.2 L326.8,35.5 L326.7,33.9 L326.6,32.3 L326.4,30.7 L326.2,29.1 L325.9,27.5Z" fill="#FF5400"/>
<path d="M333.0,38.3 L332.1,40.2 L331.3,42.1 L330.5,44.0 L329.8,45.9 L329.2,47.8 L328.6,49.8 L328.2,51.8 L327.7,53.8 L327.3,55.8 L326.9,57.8 L326.6,59.8 L326.3,61.8 L326.0,63.8 L325.7,65.8 L326.9,66.2 L327.7,64.3 L328.4,62.4 L329.1,60.4 L329.8,58.5 L330.5,56.6 L331.1,54.7 L331.7,52.7 L332.3,50.8 L332.8,48.8 L333.2,46.8 L333.6,44.8 L333.8,42.8 L334.1,40.7 L334.2,38.7Z" fill="#FF5400"/>
<path d="M340.2,32.0 L339.9,33.7 L339.5,35.4 L339.3,37.1 L339.0,38.8 L338.9,40.5 L338.8,42.2 L338.8,44.0 L338.9,45.7 L338.9,47.4 L339.0,49.1 L339.1,50.8 L339.3,52.5 L339.4,54.3 L339.6,56.0 L340.8,56.0 L341.0,54.3 L341.3,52.6 L341.5,50.9 L341.7,49.2 L341.9,47.5 L342.0,45.8 L342.2,44.0 L342.2,42.3 L342.3,40.6 L342.2,38.9 L342.1,37.2 L341.9,35.5 L341.7,33.7 L341.4,32.0Z" fill="#FF5400"/>
<path d="M348.6,35.8 L347.7,37.9 L346.8,40.0 L346.0,42.0 L345.3,44.1 L344.6,46.2 L344.1,48.4 L343.6,50.5 L343.1,52.7 L342.6,54.9 L342.2,57.1 L341.9,59.2 L341.5,61.4 L341.2,63.6 L340.9,65.8 L342.1,66.2 L342.9,64.1 L343.7,62.0 L344.4,59.9 L345.2,57.8 L345.9,55.7 L346.5,53.6 L347.1,51.5 L347.7,49.3 L348.3,47.2 L348.7,45.0 L349.1,42.8 L349.4,40.6 L349.6,38.4 L349.8,36.2Z" fill="#FF5400"/>
<path d="M358.8,39.3 L357.8,41.4 L356.9,43.5 L356.0,45.6 L355.2,47.7 L354.4,49.9 L353.8,52.0 L353.2,54.2 L352.7,56.4 L352.1,58.6 L351.7,60.9 L351.2,63.1 L350.8,65.3 L350.4,67.6 L350.0,69.8 L351.2,70.2 L352.1,68.1 L352.9,66.0 L353.8,63.8 L354.6,61.7 L355.3,59.6 L356.1,57.4 L356.8,55.3 L357.5,53.1 L358.1,50.9 L358.6,48.7 L359.0,46.5 L359.4,44.2 L359.7,42.0 L360.0,39.7Z" fill="#FF5400"/>
</g><g filter="url(#b05)">
<path d="M298,87 Q304,84 312,85" stroke="#FF9A00" stroke-width="1.4" fill="none" stroke-linecap="round" stroke-linejoin="round" opacity="1.0"/>
<path d="M293,121 Q300,104 306,108 Q311,112 313,119" stroke="#FF8A00" stroke-width="2.0" fill="none" stroke-linecap="round" stroke-linejoin="round" opacity="1.0"/>
<path d="M281,127 L289,145 L294,118" stroke="#FF7A00" stroke-width="1.8" fill="none" stroke-linecap="round" stroke-linejoin="round" opacity="1.0"/>
<path d="M287,127 Q297,127 307,128" stroke="#FF7A00" stroke-width="1.8" fill="none" stroke-linecap="round" stroke-linejoin="round" opacity="1.0"/>
<path d="M357,65 Q363,72 363,83" stroke="#FF9A00" stroke-width="1.3" fill="none" stroke-linecap="round" stroke-linejoin="round" opacity="1.0"/>
<path d="M350,82 L363,95" stroke="#FF9A00" stroke-width="1.5" fill="none" stroke-linecap="round" stroke-linejoin="round" opacity="1.0"/>
<path d="M344,100 Q350,110 358,125" stroke="#FF8A00" stroke-width="1.6" fill="none" stroke-linecap="round" stroke-linejoin="round" opacity="1.0"/>
<path d="M335,120 Q345,115 360,135" stroke="#FF7A00" stroke-width="1.8" fill="none" stroke-linecap="round" stroke-linejoin="round" opacity="1.0"/>
<path d="M356,100 Q366,115 372,140" stroke="#FF8A00" stroke-width="1.4" fill="none" stroke-linecap="round" stroke-linejoin="round" opacity="1.0"/>
<path d="M313,100 Q320,90 330,88" stroke="#FF9A00" stroke-width="1.6" fill="none" stroke-linecap="round" stroke-linejoin="round" opacity="1.0"/>
<path d="M305,100 Q315,95 325,97" stroke="#FF9A00" stroke-width="1.4" fill="none" stroke-linecap="round" stroke-linejoin="round" opacity="1.0"/>
<path d="M300,92 Q310,85 318,84" stroke="#FF9A00" stroke-width="1.4" fill="none" stroke-linecap="round" stroke-linejoin="round" opacity="1.0"/>
<path d="M330,75 Q338,82 342,100" stroke="#FF9000" stroke-width="1.4" fill="none" stroke-linecap="round" stroke-linejoin="round" opacity="1.0"/>
<path d="M318,140 Q300,150 290,162" stroke="#FF7000" stroke-width="1.6" fill="none" stroke-linecap="round" stroke-linejoin="round" opacity="1.0"/>
</g>
<g filter="url(#b08)">
<ellipse cx="376" cy="80" rx="3" ry="2" fill="#FF3A20"/>
<ellipse cx="380" cy="80" rx="1.6" ry="1.4" fill="#E010B0"/>
<ellipse cx="384" cy="81" rx="1.5" ry="1.5" fill="#FF5020"/>
<ellipse cx="362" cy="161" rx="2.2" ry="1.8" fill="#D020C0"/>
<ellipse cx="371" cy="160.5" rx="2.6" ry="2.2" fill="#A018D0"/>
<ellipse cx="325" cy="145" rx="1.2" ry="1.2" fill="#D02090"/>
</g>
<rect x="384.4" y="10.8" width="1.6" height="19" fill="#FF4A18" filter="url(#b05)"/>
<rect x="384.6" y="30" width="1.4" height="132" fill="#FFA800" opacity="0.6"/>
<rect x="384.2" y="10.8" width="1.8" height="3" fill="#C010C0"/>
</g>
<text x="139.4" y="12.7" font-size="11.9">A</text>
<text x="213.85" y="182.2" font-size="12.4" text-anchor="middle">Control</text>
<text x="330.1" y="181.6" font-size="12.4" text-anchor="middle">HNT</text>
<text x="9.6" y="211.6" font-size="10.9">B</text>
<text x="290.6" y="214.3" font-size="10.9">C</text>
<g filter="url(#sb)"><rect x="409.3" y="42.8" width="12.2" height="97.8" fill="url(#cbar)" stroke="#c8c8c8" stroke-width="0.4"/>
<path d="M421.6 50.70H423.4" stroke="#999" stroke-width="0.5"/>
<text transform="translate(424.9 52.30) scale(0.8 1)" font-size="4.6" style="font-weight:normal;fill:#666">22.0</text>
<path d="M421.6 60.56H423.4" stroke="#999" stroke-width="0.5"/>
<text transform="translate(424.9 62.16) scale(0.8 1)" font-size="4.6" style="font-weight:normal;fill:#666">21.5</text>
<path d="M421.6 70.42H423.4" stroke="#999" stroke-width="0.5"/>
<text transform="translate(424.9 72.02) scale(0.8 1)" font-size="4.6" style="font-weight:normal;fill:#666">21.0</text>
<path d="M421.6 80.28H423.4" stroke="#999" stroke-width="0.5"/>
<text transform="translate(424.9 81.88) scale(0.8 1)" font-size="4.6" style="font-weight:normal;fill:#666">20.5</text>
<path d="M421.6 90.14H423.4" stroke="#999" stroke-width="0.5"/>
<text transform="translate(424.9 91.74) scale(0.8 1)" font-size="4.6" style="font-weight:normal;fill:#666">20.0</text>
<path d="M421.6 100.00H423.4" stroke="#999" stroke-width="0.5"/>
<text transform="translate(424.9 101.60) scale(0.8 1)" font-size="4.6" style="font-weight:normal;fill:#666">19.5</text>
<path d="M421.6 109.86H423.4" stroke="#999" stroke-width="0.5"/>
<text transform="translate(424.9 111.46) scale(0.8 1)" font-size="4.6" style="font-weight:normal;fill:#666">19.0</text>
<path d="M421.6 119.72H423.4" stroke="#999" stroke-width="0.5"/>
<text transform="translate(424.9 121.32) scale(0.8 1)" font-size="4.6" style="font-weight:normal;fill:#666">18.5</text>
<path d="M421.6 129.58H423.4" stroke="#999" stroke-width="0.5"/>
<text transform="translate(424.9 131.18) scale(0.8 1)" font-size="4.6" style="font-weight:normal;fill:#666">18.0</text>
<path d="M421.6 139.44H423.4" stroke="#999" stroke-width="0.5"/>
<text transform="translate(424.9 141.04) scale(0.8 1)" font-size="4.6" style="font-weight:normal;fill:#666">17.5</text>
<text transform="translate(407 40.7) scale(0.8 1)" font-size="4.5" style="font-weight:normal;fill:#666">22.4 &#176;C</text>
<text transform="translate(407 146.4) scale(0.8 1)" font-size="4.5" style="font-weight:normal;fill:#666">17.4 &#176;C</text></g>
<rect x="53.00" y="280.40" width="21.80" height="127.60" fill="#00BE78" stroke="#000" stroke-width="2"/>
<rect x="89.00" y="340.10" width="21.80" height="67.90" fill="#FF8000" stroke="#000" stroke-width="2"/>
<rect x="125.00" y="312.60" width="21.80" height="95.40" fill="#00BE78" stroke="#000" stroke-width="2"/>
<rect x="161.00" y="319.90" width="21.80" height="88.10" fill="#FF8000" stroke="#000" stroke-width="2"/>
<rect x="197.00" y="328.40" width="21.80" height="79.60" fill="#00BE78" stroke="#000" stroke-width="2"/>
<rect x="233.00" y="302.90" width="21.80" height="105.10" fill="#FF8000" stroke="#000" stroke-width="2"/>
<path d="M63.90 278.80V281.00M57.71 278.80H70.09M57.71 281.00H70.09" stroke="#000" stroke-width="1.6" fill="none"/>
<path d="M99.90 334.20V343.50M93.71 334.20H106.09M93.71 343.50H106.09" stroke="#000" stroke-width="1.6" fill="none"/>
<path d="M135.90 310.60V313.00M129.71 310.60H142.09M129.71 313.00H142.09" stroke="#000" stroke-width="1.6" fill="none"/>
<path d="M171.90 317.40V320.80M165.71 317.40H178.09M165.71 320.80H178.09" stroke="#000" stroke-width="1.6" fill="none"/>
<path d="M207.90 323.20V331.50M201.71 323.20H214.09M201.71 331.50H214.09" stroke="#000" stroke-width="1.6" fill="none"/>
<path d="M243.90 300.60V303.30M237.71 300.60H250.09M237.71 303.30H250.09" stroke="#000" stroke-width="1.6" fill="none"/>
<path d="M40.00 247.80V409.00M39.00 408.00H269.30" stroke="#000" stroke-width="2" fill="none"/>
<path d="M34.50 408.00H40.0" stroke="#000" stroke-width="1.7"/>
<text class="t" x="33.40" y="411.10" text-anchor="end" font-size="8.4">0.0</text>
<path d="M34.50 376.14H40.0" stroke="#000" stroke-width="1.7"/>
<text class="t" x="33.40" y="379.24" text-anchor="end" font-size="8.4">0.5</text>
<path d="M34.50 344.28H40.0" stroke="#000" stroke-width="1.7"/>
<text class="t" x="33.40" y="347.38" text-anchor="end" font-size="8.4">1.0</text>
<path d="M34.50 312.42H40.0" stroke="#000" stroke-width="1.7"/>
<text class="t" x="33.40" y="315.52" text-anchor="end" font-size="8.4">1.5</text>
<path d="M34.50 280.56H40.0" stroke="#000" stroke-width="1.7"/>
<text class="t" x="33.40" y="283.66" text-anchor="end" font-size="8.4">2.0</text>
<path d="M34.50 248.70H40.0" stroke="#000" stroke-width="1.7"/>
<text class="t" x="33.40" y="251.80" text-anchor="end" font-size="8.4">2.5</text>
<path d="M81.90 408.0V413.0" stroke="#000" stroke-width="1.6"/>
<text class="t" x="81.90" y="422.50" text-anchor="middle" font-size="8.4">HI 1544</text>
<path d="M153.90 408.0V413.0" stroke="#000" stroke-width="1.6"/>
<text class="t" x="153.90" y="422.50" text-anchor="middle" font-size="8.4">HI 1563</text>
<path d="M225.90 408.0V413.0" stroke="#000" stroke-width="1.6"/>
<text class="t" x="225.90" y="422.50" text-anchor="middle" font-size="8.4">HD 2932</text>
<text class="t" x="60.65" y="276.40" text-anchor="middle" font-size="9.4">e</text>
<text class="t" x="98.50" y="330.60" text-anchor="middle" font-size="9.4">a</text>
<text class="t" x="132.40" y="307.70" text-anchor="middle" font-size="9.4">c</text>
<text class="t" x="171.30" y="312.90" text-anchor="middle" font-size="9.4">bc</text>
<text class="t" x="207.30" y="318.90" text-anchor="middle" font-size="9.4">b</text>
<text class="t" x="245.80" y="298.90" text-anchor="middle" font-size="9.4">d</text>
<text class="t" transform="translate(13.90 411.30) rotate(-90)" font-size="9.0" textLength="145.30" lengthAdjust="spacingAndGlyphs">Ear Temperature Depression &#916;T ear</text>
<text class="t" transform="translate(13.90 263.60) rotate(-90)" font-size="9.0" textLength="18.40" lengthAdjust="spacing">(&#176;C)</text>
<rect x="98.75" y="245.90" width="11.2" height="3.4" fill="#00BE78" stroke="#000" stroke-width="1.5"/>
<text class="t" x="118.00" y="249.9" font-size="8.4">Control</text>
<rect x="160.35" y="245.80" width="11.2" height="3.4" fill="#FF8000" stroke="#000" stroke-width="1.5"/>
<text class="t" x="179.80" y="249.9" font-size="8.4">HNT</text>
<rect x="326.20" y="321.30" width="22.20" height="87.50" fill="#00BE78" stroke="#000" stroke-width="2"/>
<rect x="363.10" y="320.30" width="22.20" height="88.50" fill="#FF8000" stroke="#000" stroke-width="2"/>
<rect x="400.00" y="327.80" width="22.20" height="81.00" fill="#00BE78" stroke="#000" stroke-width="2"/>
<rect x="436.90" y="327.50" width="22.20" height="81.30" fill="#FF8000" stroke="#000" stroke-width="2"/>
<rect x="473.80" y="315.00" width="22.20" height="93.80" fill="#00BE78" stroke="#000" stroke-width="2"/>
<rect x="510.70" y="317.60" width="22.20" height="91.20" fill="#FF8000" stroke="#000" stroke-width="2"/>
<path d="M337.30 307.60V332.10M331.01 307.60H343.59M331.01 332.10H343.59" stroke="#000" stroke-width="1.6" fill="none"/>
<path d="M374.20 301.40V336.00M367.91 301.40H380.49M367.91 336.00H380.49" stroke="#000" stroke-width="1.6" fill="none"/>
<path d="M411.10 323.60V328.90M404.81 323.60H417.39M404.81 328.90H417.39" stroke="#000" stroke-width="1.6" fill="none"/>
<path d="M448.00 320.00V331.90M441.71 320.00H454.29M441.71 331.90H454.29" stroke="#000" stroke-width="1.6" fill="none"/>
<path d="M484.90 306.70V320.50M478.61 306.70H491.19M478.61 320.50H491.19" stroke="#000" stroke-width="1.6" fill="none"/>
<path d="M521.80 306.30V325.90M515.51 306.30H528.09M515.51 325.90H528.09" stroke="#000" stroke-width="1.6" fill="none"/>
<path d="M313.10 245.15V409.80M312.10 408.80H547.30" stroke="#000" stroke-width="2" fill="none"/>
<path d="M307.60 408.80H313.1" stroke="#000" stroke-width="1.7"/>
<text class="t" x="306.50" y="411.90" text-anchor="end" font-size="8.4">0.0</text>
<path d="M307.60 376.25H313.1" stroke="#000" stroke-width="1.7"/>
<text class="t" x="306.50" y="379.35" text-anchor="end" font-size="8.4">0.5</text>
<path d="M307.60 343.70H313.1" stroke="#000" stroke-width="1.7"/>
<text class="t" x="306.50" y="346.80" text-anchor="end" font-size="8.4">1.0</text>
<path d="M307.60 311.15H313.1" stroke="#000" stroke-width="1.7"/>
<text class="t" x="306.50" y="314.25" text-anchor="end" font-size="8.4">1.5</text>
<path d="M307.60 278.60H313.1" stroke="#000" stroke-width="1.7"/>
<text class="t" x="306.50" y="281.70" text-anchor="end" font-size="8.4">2.0</text>
<path d="M307.60 246.05H313.1" stroke="#000" stroke-width="1.7"/>
<text class="t" x="306.50" y="249.15" text-anchor="end" font-size="8.4">2.5</text>
<path d="M355.60 408.8V413.8" stroke="#000" stroke-width="1.6"/>
<text class="t" x="355.60" y="423.30" text-anchor="middle" font-size="8.4">HI 1544</text>
<path d="M429.50 408.8V413.8" stroke="#000" stroke-width="1.6"/>
<text class="t" x="429.50" y="423.30" text-anchor="middle" font-size="8.4">HI 1563</text>
<path d="M503.30 408.8V413.8" stroke="#000" stroke-width="1.6"/>
<text class="t" x="503.30" y="423.30" text-anchor="middle" font-size="8.4">HD 2932</text>
<text class="t" x="331.35" y="303.20" text-anchor="middle" font-size="9.4">a</text>
<text class="t" x="374.25" y="299.20" text-anchor="middle" font-size="9.4">a</text>
<text class="t" x="410.35" y="320.60" text-anchor="middle" font-size="9.4">a</text>
<text class="t" x="448.20" y="318.40" text-anchor="middle" font-size="9.4">a</text>
<text class="t" x="482.80" y="303.90" text-anchor="middle" font-size="9.4">a</text>
<text class="t" x="518.00" y="303.40" text-anchor="middle" font-size="9.4">a</text>
<text class="t" transform="translate(285.80 413.50) rotate(-90)" font-size="9.2" textLength="150.50" lengthAdjust="spacingAndGlyphs">Ear Temperature Depression &#916;T ear</text>
<text class="t" transform="translate(285.80 261.30) rotate(-90)" font-size="9.2" textLength="21.30" lengthAdjust="spacing">(&#176;C)</text>
<rect x="372.85" y="245.70" width="11.2" height="3.4" fill="#00BE78" stroke="#000" stroke-width="1.5"/>
<text class="t" x="392.30" y="249.9" font-size="8.4">Control</text>
<rect x="436.05" y="245.70" width="11.2" height="3.4" fill="#FF8000" stroke="#000" stroke-width="1.5"/>
<text class="t" x="456.00" y="249.9" font-size="8.4">HNT</text>
</svg>
</body></html>
